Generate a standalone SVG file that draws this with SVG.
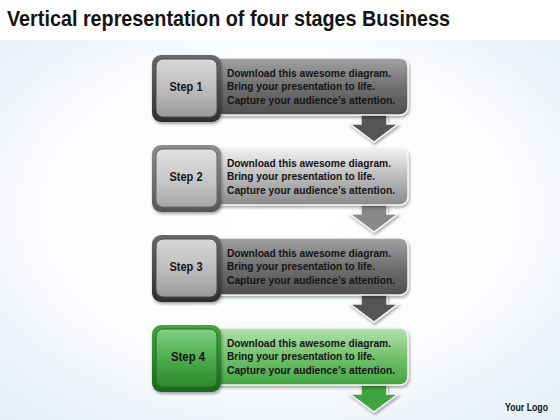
<svg xmlns="http://www.w3.org/2000/svg" xmlns:xlink="http://www.w3.org/1999/xlink" width="560" height="420" viewBox="0 0 560 420">
<defs>
<radialGradient id="bg" cx="0.5" cy="0.45" r="0.75">
<stop offset="0" stop-color="#ffffff"/><stop offset="0.55" stop-color="#fbfcfe"/><stop offset="1" stop-color="#e4edf6"/>
</radialGradient>
<linearGradient id="bodyDark" x1="0" y1="0" x2="0" y2="1">
<stop offset="0" stop-color="#a2a2a2"/><stop offset="0.5" stop-color="#707070"/><stop offset="1" stop-color="#4e4e4e"/>
</linearGradient>
<linearGradient id="bodyLight" x1="0" y1="0" x2="0" y2="1">
<stop offset="0" stop-color="#f2f2f2"/><stop offset="0.5" stop-color="#bcbcbc"/><stop offset="1" stop-color="#8a8a8a"/>
</linearGradient>
<linearGradient id="bodyGreen" x1="0" y1="0" x2="0" y2="1">
<stop offset="0" stop-color="#b4e2ae"/><stop offset="0.5" stop-color="#72c26c"/><stop offset="1" stop-color="#43a443"/>
</linearGradient>
<linearGradient id="frameDark" x1="0" y1="0" x2="0" y2="1">
<stop offset="0" stop-color="#6a6a6a"/><stop offset="1" stop-color="#2e2e2e"/>
</linearGradient>
<linearGradient id="frameLight" x1="0" y1="0" x2="0" y2="1">
<stop offset="0" stop-color="#8e8e8e"/><stop offset="1" stop-color="#555555"/>
</linearGradient>
<linearGradient id="frameGreen" x1="0" y1="0" x2="0" y2="1">
<stop offset="0" stop-color="#45a445"/><stop offset="1" stop-color="#1c661c"/>
</linearGradient>
<linearGradient id="innerGray" x1="0" y1="0" x2="0" y2="1">
<stop offset="0" stop-color="#d8d8d8"/><stop offset="0.6" stop-color="#b8b8b8"/><stop offset="1" stop-color="#999999"/>
</linearGradient>
<linearGradient id="innerGray2" x1="0" y1="0" x2="0" y2="1">
<stop offset="0" stop-color="#e2e2e2"/><stop offset="0.6" stop-color="#c4c4c4"/><stop offset="1" stop-color="#a6a6a6"/>
</linearGradient>
<linearGradient id="innerGreen" x1="0" y1="0" x2="0" y2="1">
<stop offset="0" stop-color="#80d080"/><stop offset="0.55" stop-color="#4aaa4a"/><stop offset="1" stop-color="#2c892c"/>
</linearGradient>
<filter id="sh" x="-10%" y="-10%" width="120%" height="130%">
<feGaussianBlur in="SourceAlpha" stdDeviation="1.5"/><feOffset dx="1" dy="2" result="b"/>
<feComponentTransfer><feFuncA type="linear" slope="0.35"/></feComponentTransfer>
<feMerge><feMergeNode/><feMergeNode in="SourceGraphic"/></feMerge>
</filter>
<path id="body" d="M162 3H399Q408 3 408 12V51Q408 60 399 60H162Q153 60 153 51V12Q153 3 162 3Z"/>
<path id="arrow" d="M361 58V69H350L374 87L398 69H387V58Z"/>
<polyline id="arrowEdge" points="361,60 361,69 350,69 374,87 398,69 387,69 387,60"/>
</defs>
<style>
.t{font-family:"Liberation Sans",Arial,sans-serif;font-weight:bold;fill:#141414;}
.d{font-size:10.5px;}
.s{font-size:12.5px;text-anchor:middle;}
.edge{stroke:#f4f4f4;stroke-width:1.5;}
.aedge{fill:none;stroke:#f4f4f4;stroke-width:1.5;stroke-linejoin:miter;}
</style>
<rect width="560" height="420" fill="#ffffff"/>
<rect x="0" y="40" width="560" height="380" fill="url(#bg)"/>
<text class="t" x="7" y="26" font-size="21.5" textLength="443" lengthAdjust="spacingAndGlyphs">Vertical representation of four stages Business</text>

<g id="connectors">
<g transform="translate(0,55)" filter="url(#sh)"><use xlink:href="#arrow" fill="#545454"/><use xlink:href="#arrowEdge" class="aedge"/></g>
<g transform="translate(0,145)" filter="url(#sh)"><use xlink:href="#arrow" fill="#888888"/><use xlink:href="#arrowEdge" class="aedge"/></g>
<g transform="translate(0,235)" filter="url(#sh)"><use xlink:href="#arrow" fill="#545454"/><use xlink:href="#arrowEdge" class="aedge"/></g>
<g transform="translate(0,325)" filter="url(#sh)"><use xlink:href="#arrow" fill="#40a240"/><use xlink:href="#arrowEdge" class="aedge"/></g>
</g>

<g id="step1" transform="translate(0,55)">
<use xlink:href="#body" fill="url(#bodyDark)" class="edge" filter="url(#sh)"/>
<rect x="152" y="0" width="69" height="67" rx="9" fill="url(#frameDark)" filter="url(#sh)"/>
<rect x="156" y="4" width="61" height="58" rx="7" fill="url(#innerGray)" stroke="#4a4a4a" stroke-width="1"/>
<text class="t s" x="186" y="36" textLength="33" lengthAdjust="spacingAndGlyphs">Step 1</text>
<text class="t d" x="227" y="21.5" textLength="164" lengthAdjust="spacingAndGlyphs">Download this awesome diagram.</text>
<text class="t d" x="227" y="35" textLength="148" lengthAdjust="spacingAndGlyphs">Bring your presentation to life.</text>
<text class="t d" x="227" y="48.5" textLength="168" lengthAdjust="spacingAndGlyphs">Capture your audience’s attention.</text>
</g>

<g id="step2" transform="translate(0,145)">
<use xlink:href="#body" fill="url(#bodyLight)" class="edge" filter="url(#sh)"/>
<rect x="152" y="0" width="69" height="67" rx="9" fill="url(#frameLight)" filter="url(#sh)"/>
<rect x="156" y="4" width="61" height="58" rx="7" fill="url(#innerGray2)" stroke="#666666" stroke-width="1"/>
<text class="t s" x="186" y="36" textLength="33" lengthAdjust="spacingAndGlyphs">Step 2</text>
<text class="t d" x="227" y="21.5" textLength="164" lengthAdjust="spacingAndGlyphs">Download this awesome diagram.</text>
<text class="t d" x="227" y="35" textLength="148" lengthAdjust="spacingAndGlyphs">Bring your presentation to life.</text>
<text class="t d" x="227" y="48.5" textLength="168" lengthAdjust="spacingAndGlyphs">Capture your audience’s attention.</text>
</g>

<g id="step3" transform="translate(0,235)">
<use xlink:href="#body" fill="url(#bodyDark)" class="edge" filter="url(#sh)"/>
<rect x="152" y="0" width="69" height="67" rx="9" fill="url(#frameDark)" filter="url(#sh)"/>
<rect x="156" y="4" width="61" height="58" rx="7" fill="url(#innerGray)" stroke="#4a4a4a" stroke-width="1"/>
<text class="t s" x="186" y="36" textLength="33" lengthAdjust="spacingAndGlyphs">Step 3</text>
<text class="t d" x="227" y="21.5" textLength="164" lengthAdjust="spacingAndGlyphs">Download this awesome diagram.</text>
<text class="t d" x="227" y="35" textLength="148" lengthAdjust="spacingAndGlyphs">Bring your presentation to life.</text>
<text class="t d" x="227" y="48.5" textLength="168" lengthAdjust="spacingAndGlyphs">Capture your audience’s attention.</text>
</g>

<g id="step4" transform="translate(0,325)">
<use xlink:href="#body" fill="url(#bodyGreen)" class="edge" filter="url(#sh)"/>
<rect x="152" y="0" width="69" height="67" rx="9" fill="url(#frameGreen)" filter="url(#sh)"/>
<rect x="156" y="4" width="61" height="58" rx="7" fill="url(#innerGreen)" stroke="#1f6e1f" stroke-width="1"/>
<text class="t s" x="188" y="36" textLength="34" lengthAdjust="spacingAndGlyphs">Step 4</text>
<text class="t d" x="227" y="21.5" textLength="164" lengthAdjust="spacingAndGlyphs">Download this awesome diagram.</text>
<text class="t d" x="227" y="35" textLength="148" lengthAdjust="spacingAndGlyphs">Bring your presentation to life.</text>
<text class="t d" x="227" y="48.5" textLength="168" lengthAdjust="spacingAndGlyphs">Capture your audience’s attention.</text>
</g>

<text class="t" x="505" y="411" font-size="10" textLength="43" lengthAdjust="spacingAndGlyphs">Your Logo</text>
</svg>
